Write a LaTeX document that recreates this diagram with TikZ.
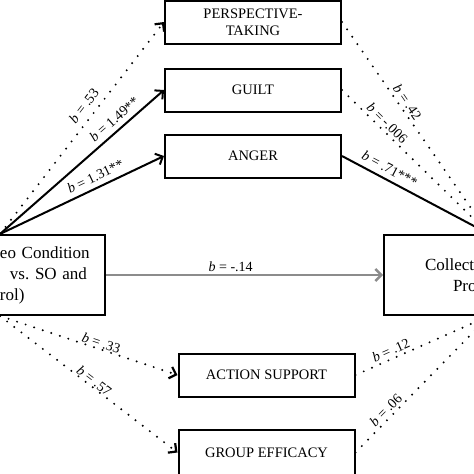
\documentclass[tikz,border=0pt]{standalone}
\usepackage{fontspec}
\setmainfont{Liberation Serif}
\usepackage{xcolor}
\usepackage{tikz}
\usetikzlibrary{arrows.meta, positioning}
\definecolor{gris}{HTML}{8C8C8C}
\frenchspacing
\tikzset{
  boite/.style={rectangle, draw=black, line width=2pt, fill=white,
    font=\fontsize{14.5}{17}\selectfont, minimum height=43pt,
    minimum width=176pt, align=center, inner sep=2pt},
  grandeboite/.style={boite, font=\fontsize{17}{21}\selectfont,
    minimum height=80pt, minimum width=210pt, text width=202pt,
    inner xsep=4pt, align=left},
  fleche/.style={-{Straight Barb[length=6pt, width=12pt]}, line width=2pt},
  flechepointillee/.style={fleche, line width=2.2pt, line cap=round,
    dash pattern=on 0pt off 9pt},
  flechegrise/.style={fleche, color=gris, line width=2.4pt},
  etiquette/.style={font=\fontsize{14}{16}\selectfont, sloped, above, inner sep=2pt},
}

\begin{document}
\begin{tikzpicture}[x=1pt, y=-1pt]
    \useasboundingbox (0,0) rectangle (474,474);
    \fill[white] (0,0) rectangle (474,474);
    \clip (0,0) rectangle (474,474);

    \node[boite] (persp) at (253,22) {PERSPECTIVE-\\TAKING};
    \node[boite, below=23pt of persp] (guilt) {GUILT};
    \node[boite, below=21pt of guilt] (anger) {ANGER};
    \node[boite] (action) at (266.5,375) {ACTION SUPPORT};
    \node[boite, minimum height=46pt, below=31pt of action] (efficacy) {GROUP EFFICACY};

    \node[grandeboite] (cond) at (0,275)
      {\hspace*{101pt}eo Condition\\\hspace*{111pt}vs. SO and\\\hspace*{101pt}rol)};
    \node[grandeboite] (outcome) at (489,275)
      {\hspace*{37pt}Collect\\\hspace*{65pt}Pro};

    \draw[flechepointillee] (cond.north) -- node[etiquette, above=4pt, pos=.57] {\textit{b} = .53} (persp.west);
    \draw[fleche] (cond.north) -- node[etiquette, above=3pt, pos=.74] {\textit{b} = 1.49**} (guilt.west);
    \draw[fleche] (cond.north) -- node[etiquette, above=3pt, pos=.61] {\textit{b} = 1.31**} (anger.west);
    \draw[flechepointillee] (persp.east) -- node[etiquette, pos=.40] {\textit{b} = .42} (outcome.north);
    \draw[flechepointillee] (guilt.east) -- node[etiquette, pos=.27] {\textit{b} = -.006} (outcome.north);
    \draw[fleche] (anger.east) -- node[etiquette, above=3pt, pos=.29] {\textit{b} = .71***} (outcome.north);
    \draw[flechegrise] (cond.east) -- node[etiquette, pos=.45, text=black] {\textit{b} = -.14} (outcome.west);
    \draw[flechepointillee] (cond.south) -- node[etiquette, inner sep=0pt, pos=.56] {\textit{b} = .33} (action.west);
    \draw[flechepointillee] (cond.south) -- node[etiquette, inner sep=0pt, pos=.51] {\textit{b} = .57} (efficacy.west);
    \draw[flechepointillee] (action.east) -- node[etiquette, pos=.29] {\textit{b} = .12} (outcome.south);
    \draw[flechepointillee] (efficacy.east) -- node[etiquette, pos=.27] {\textit{b} = .06} (outcome.south);
\end{tikzpicture}
\end{document}
